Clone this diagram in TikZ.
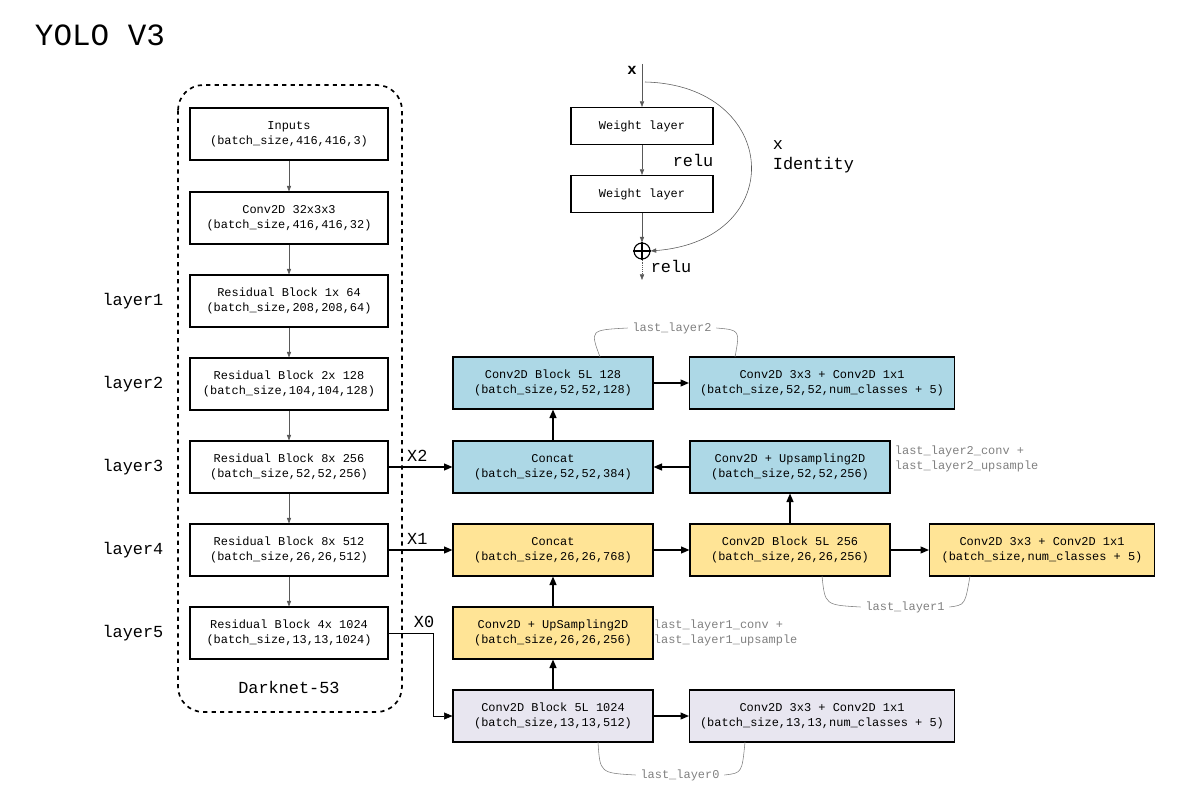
\documentclass[tikz,border=0pt]{standalone}
\usepackage{fontspec}
\setmonofont{Liberation Mono}
\usetikzlibrary{arrows.meta}

\begin{document}
\begin{tikzpicture}[x=0.025cm,y=-0.025cm]
\tikzset{
  BoxStyle/.style = {draw, thick, align=center, font=\ttfamily\fontsize{8.5}{11}\selectfont,
                     minimum height=52*0.025cm, inner sep=1pt},
  DarkStyle/.style = {BoxStyle, minimum width=198*0.025cm},
  MidStyle/.style = {BoxStyle, minimum width=200*0.025cm},
  WideStyle/.style = {BoxStyle, minimum width=265*0.025cm},
  FlowStyle/.style = {-{Triangle[length=6pt,width=5pt]}, thick},
  ThinStyle/.style = {-{Triangle[length=4pt,width=3pt]}, gray!70!black, thin},
  NoteStyle/.style = {gray, font=\ttfamily\fontsize{8.5}{11}\selectfont, align=left},
  LabelStyle/.style = {font=\ttfamily\fontsize{12}{14}\selectfont},
}
\definecolor{blueBox}{RGB}{173,216,230}
\definecolor{yellowBox}{RGB}{255,228,150}
\definecolor{lavBox}{RGB}{232,230,240}
\useasboundingbox (0,0) rectangle (1185,794);

\node[font=\ttfamily\fontsize{22}{24}\selectfont, anchor=west] (title) at (30,35) {YOLO V3};

% darknet
\draw[dashed, very thick, rounded corners=18pt] (178,85) rectangle (402,712);
\node[DarkStyle] (inp) at (289,134) {Inputs\\(batch\_size,416,416,3)};
\node[DarkStyle] (conv) at (289,218) {Conv2D 32x3x3\\(batch\_size,416,416,32)};
\node[DarkStyle] (rb1) at (289,301) {Residual Block 1x 64\\(batch\_size,208,208,64)};
\node[DarkStyle] (rb2) at (289,384) {Residual Block 2x 128\\(batch\_size,104,104,128)};
\node[DarkStyle] (rb3) at (289,467) {Residual Block 8x 256\\(batch\_size,52,52,256)};
\node[DarkStyle] (rb4) at (289,550) {Residual Block 8x 512\\(batch\_size,26,26,512)};
\node[DarkStyle] (rb5) at (289,633) {Residual Block 4x 1024\\(batch\_size,13,13,1024)};
\node[LabelStyle] (dn) at (289,687) {Darknet-53};
\foreach \a/\b in {inp/conv,conv/rb1,rb1/rb2,rb2/rb3,rb3/rb4,rb4/rb5}
  \draw[ThinStyle] (\a) -- (\b);
\foreach \n/\y in {1/301,2/384,3/467,4/550,5/633}
  \node[LabelStyle] (lay\n) at (133,\y) {layer\n};

% heads
\node[MidStyle, fill=blueBox] (blk128) at (553,383) {Conv2D Block 5L 128\\(batch\_size,52,52,128)};
\node[MidStyle, fill=blueBox] (cat52) at (553,467) {Concat\\(batch\_size,52,52,384)};
\node[MidStyle, fill=yellowBox] (cat26) at (553,550) {Concat\\(batch\_size,26,26,768)};
\node[MidStyle, fill=yellowBox] (up26) at (553,633) {Conv2D + UpSampling2D\\(batch\_size,26,26,256)};
\node[MidStyle, fill=lavBox] (blk1024) at (553,716) {Conv2D Block 5L 1024\\(batch\_size,13,13,512)};
\node[WideStyle, fill=blueBox] (out52) at (822,383) {Conv2D 3x3 + Conv2D 1x1\\(batch\_size,52,52,num\_classes + 5)};
\node[MidStyle, fill=blueBox] (up52) at (790,467) {Conv2D + Upsampling2D\\(batch\_size,52,52,256)};
\node[MidStyle, fill=yellowBox] (blk256) at (790,550) {Conv2D Block 5L 256\\(batch\_size,26,26,256)};
\node[BoxStyle, minimum width=225*0.025cm, fill=yellowBox] (out26) at (1042,550) {Conv2D 3x3 + Conv2D 1x1\\(batch\_size,num\_classes + 5)};
\node[WideStyle, fill=lavBox] (out13) at (822,716) {Conv2D 3x3 + Conv2D 1x1\\(batch\_size,13,13,num\_classes + 5)};

\draw[FlowStyle] (rb3) -- node[LabelStyle, above, pos=0.45] {X2} (cat52);
\draw[FlowStyle] (rb4) -- node[LabelStyle, above, pos=0.45] {X1} (cat26);
\node[LabelStyle] (x0) at (424,622) {X0};
\draw[FlowStyle, thin] (rb5.east) -| (433,716) -- (blk1024.west);
\draw[FlowStyle] (blk1024) -- (out13);
\draw[FlowStyle] (blk1024) -- (up26);
\draw[FlowStyle] (up26) -- (cat26);
\draw[FlowStyle] (cat26) -- (blk256);
\draw[FlowStyle] (blk256) -- (out26);
\draw[FlowStyle] (blk256) -- (up52);
\draw[FlowStyle] (up52) -- (cat52);
\draw[FlowStyle] (cat52) -- (blk128);
\draw[FlowStyle] (blk128) -- (out52);

% notes
\node[NoteStyle] (n2) at (672,328) {last\_layer2};
\draw[gray] (600,357) .. controls (590,330) .. (n2.west) (n2.east) .. controls (740,330) .. (735,357);
\node[NoteStyle] (n1) at (905,607) {last\_layer1};
\draw[gray] (822,576) .. controls (825,605) .. (n1.west) (n1.east) .. controls (965,605) .. (970,576);
\node[NoteStyle] (n0) at (680,775) {last\_layer0};
\draw[gray] (598,742) .. controls (600,773) .. (n0.west) (n0.east) .. controls (742,773) .. (745,742);
\node[NoteStyle, anchor=west] (n2c) at (890,459) {last\_layer2\_conv +\\last\_layer2\_upsample};
\node[NoteStyle, anchor=west] (n1c) at (649,633) {last\_layer1\_conv +\\last\_layer1\_upsample};

% residual unit
\node[font=\ttfamily\bfseries\fontsize{11}{13}\selectfont] (rx) at (632,70) {x};
\node[draw, thick, minimum width=142*0.025cm, minimum height=37*0.025cm, font=\ttfamily\fontsize{8.5}{11}\selectfont] (w1) at (642,126) {Weight layer};
\node[draw, thick, minimum width=142*0.025cm, minimum height=37*0.025cm, font=\ttfamily\fontsize{8.5}{11}\selectfont] (w2) at (642,194) {Weight layer};
\node[circle, draw, thick, inner sep=0pt, minimum size=16*0.025cm] (plus) at (642,251) {};
\draw[thick] (plus.north) -- (plus.south) (plus.west) -- (plus.east);
\coordinate (top) at (642,64);
\coordinate (bot) at (642,280);
\draw[ThinStyle] (top) -- (w1);
\draw[ThinStyle] (w1) -- (w2);
\draw[ThinStyle] (w2) -- (plus);
\draw[ThinStyle, densely dotted] (plus) -- (bot);
\draw[ThinStyle] (645,82) .. controls (780,85) and (790,240) .. (plus.east);
\node[LabelStyle] (r1) at (693,160) {relu};
\node[LabelStyle] (r2) at (671,266) {relu};
\node[LabelStyle, align=left, anchor=west] (idl) at (768,157) {x\\Identity};
\end{tikzpicture}
\end{document}
